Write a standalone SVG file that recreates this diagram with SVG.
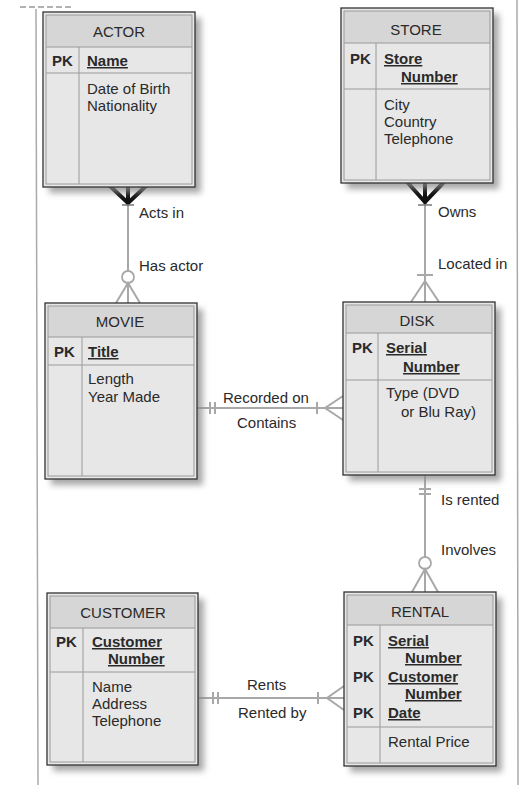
<svg xmlns="http://www.w3.org/2000/svg" width="530" height="785" viewBox="0 0 530 785">
<defs>
<filter id="sh" x="-10%" y="-10%" width="130%" height="130%"><feGaussianBlur stdDeviation="3"/></filter>
<style>
text{font-family:"Liberation Sans",Arial,sans-serif;font-size:15px;fill:#2a2a2a}
.t{text-anchor:middle}
.pk{font-weight:bold}
.k{font-weight:bold;text-decoration:underline}
.shadow{fill:#8a8a8a;opacity:0.75;filter:url(#sh)}
.body{fill:#e7e7e7;stroke:#333;stroke-width:1.3}
.in{fill:none;stroke:#9a9a9a;stroke-width:1}
.hdr{fill:#d6d6d6}
.sep{stroke:#9a9a9a;stroke-width:1}
.cn{stroke:#a8a8a8;stroke-width:2;fill:none}
.bk{stroke:#111;stroke-width:4;fill:none;stroke-linecap:round}
.tk{stroke:#777;stroke-width:1.5}
.ci{fill:#fff;stroke:#a8a8a8;stroke-width:1.8}
.fr{stroke:#aaa;stroke-width:1.5;fill:none}
</style>
</defs>
<rect width="530" height="785" fill="#fff"/>
<g id="frame">
<line class="fr" x1="36" y1="9" x2="38" y2="785"/>
<line class="fr" x1="517" y1="0" x2="518" y2="785"/>
<line x1="20" y1="7" x2="72" y2="7" stroke="#666" stroke-width="1" stroke-dasharray="6,3"/>
</g>
<g id="connectors">
<!-- ACTOR - MOVIE -->
<line class="cn" x1="128" y1="205" x2="128" y2="271"/>
<polyline class="bk" points="110,186 128,203 146,186"/>
<line class="bk" x1="128" y1="186" x2="128" y2="203"/>
<line class="tk" x1="122" y1="205" x2="134" y2="205"/>
<circle class="ci" cx="128" cy="277" r="6"/>
<polyline class="cn" points="116,303 128,283 140,303"/>
<line class="cn" x1="128" y1="283" x2="128" y2="303"/>
<!-- STORE - DISK -->
<line class="cn" x1="425" y1="205" x2="425" y2="302"/>
<polyline class="bk" points="408,183 425,202 443,183"/>
<line class="bk" x1="425" y1="183" x2="425" y2="202"/>
<line class="tk" x1="418" y1="205" x2="432" y2="205"/>
<line class="cn" x1="417" y1="275" x2="433" y2="275"/>
<polyline class="cn" points="411,302 425,281 439,302"/>
<!-- MOVIE - DISK -->
<line class="cn" x1="197" y1="408" x2="343" y2="408"/>
<line class="cn" x1="210" y1="402" x2="210" y2="414"/>
<line class="cn" x1="215" y1="402" x2="215" y2="414"/>
<line class="cn" x1="317" y1="402" x2="317" y2="414"/>
<polyline class="cn" points="343,396 325,408 343,420"/>
<!-- DISK - RENTAL -->
<line class="cn" x1="425" y1="475" x2="425" y2="557"/>
<line class="cn" x1="419" y1="489" x2="431" y2="489"/>
<line class="cn" x1="419" y1="494" x2="431" y2="494"/>
<circle class="ci" cx="425" cy="563" r="6"/>
<polyline class="cn" points="412,592 425,569 438,592"/>
<line class="cn" x1="425" y1="569" x2="425" y2="592"/>
<!-- CUSTOMER - RENTAL -->
<line class="cn" x1="198" y1="698" x2="344" y2="698"/>
<line class="cn" x1="213" y1="692" x2="213" y2="704"/>
<line class="cn" x1="218" y1="692" x2="218" y2="704"/>
<line class="cn" x1="318" y1="692" x2="318" y2="704"/>
<polyline class="cn" points="344,686 327,698 344,710"/>
</g>
<g id="labels">
<text x="139" y="218">Acts in</text>
<text x="139" y="271">Has actor</text>
<text x="438" y="217">Owns</text>
<text x="438" y="269">Located in</text>
<text x="223" y="403">Recorded on</text>
<text x="237" y="428">Contains</text>
<text x="441" y="505">Is rented</text>
<text x="441" y="555">Involves</text>
<text x="247" y="690">Rents</text>
<text x="238" y="718">Rented by</text>
</g>
<g id="actor">
<rect class="shadow" x="49" y="18" width="152" height="175"/>
<rect class="body" x="43" y="12" width="152" height="175"/>
<rect class="hdr" x="46" y="15" width="146" height="32"/>
<rect class="in" x="46" y="15" width="146" height="169"/>
<line class="sep" x1="46" y1="47" x2="192" y2="47"/>
<line class="sep" x1="46" y1="73" x2="192" y2="73"/>
<line class="sep" x1="79" y1="47" x2="79" y2="184"/>
<text class="t" x="119" y="37">ACTOR</text>
<text class="pk" x="52" y="66">PK</text>
<text class="k" x="87" y="66">Name</text>
<text x="87" y="94">Date of Birth</text>
<text x="87" y="111">Nationality</text>
</g>
<g id="store">
<rect class="shadow" x="347" y="14" width="152" height="175"/>
<rect class="body" x="341" y="8" width="152" height="175"/>
<rect class="hdr" x="344" y="11" width="146" height="32"/>
<rect class="in" x="344" y="11" width="146" height="169"/>
<line class="sep" x1="344" y1="43" x2="490" y2="43"/>
<line class="sep" x1="344" y1="89" x2="490" y2="89"/>
<line class="sep" x1="376" y1="43" x2="376" y2="180"/>
<text class="t" x="416" y="35">STORE</text>
<text class="pk" x="350" y="64">PK</text>
<text class="k" x="384" y="64">Store</text>
<text class="k" x="401" y="82">Number</text>
<text x="384" y="110">City</text>
<text x="384" y="127">Country</text>
<text x="384" y="144">Telephone</text>
</g>
<g id="movie">
<rect class="shadow" x="51" y="309" width="152" height="176"/>
<rect class="body" x="45" y="303" width="152" height="176"/>
<rect class="hdr" x="48" y="306" width="146" height="31"/>
<rect class="in" x="48" y="306" width="146" height="170"/>
<line class="sep" x1="48" y1="337" x2="194" y2="337"/>
<line class="sep" x1="48" y1="365" x2="194" y2="365"/>
<line class="sep" x1="82" y1="337" x2="82" y2="476"/>
<text class="t" x="120" y="327">MOVIE</text>
<text class="pk" x="54" y="357">PK</text>
<text class="k" x="88" y="357">Title</text>
<text x="88" y="384">Length</text>
<text x="88" y="402">Year Made</text>
</g>
<g id="disk">
<rect class="shadow" x="349" y="308" width="152" height="173"/>
<rect class="body" x="343" y="302" width="152" height="173"/>
<rect class="hdr" x="346" y="305" width="146" height="28"/>
<rect class="in" x="346" y="305" width="146" height="167"/>
<line class="sep" x1="346" y1="333" x2="492" y2="333"/>
<line class="sep" x1="346" y1="380" x2="492" y2="380"/>
<line class="sep" x1="378" y1="333" x2="378" y2="472"/>
<text class="t" x="417" y="326">DISK</text>
<text class="pk" x="352" y="353">PK</text>
<text class="k" x="386" y="353">Serial</text>
<text class="k" x="403" y="372">Number</text>
<text x="386" y="398">Type (DVD</text>
<text x="401" y="417">or Blu Ray)</text>
</g>
<g id="customer">
<rect class="shadow" x="53" y="599" width="151" height="172"/>
<rect class="body" x="47" y="593" width="151" height="172"/>
<rect class="hdr" x="50" y="596" width="145" height="32"/>
<rect class="in" x="50" y="596" width="145" height="166"/>
<line class="sep" x1="50" y1="628" x2="195" y2="628"/>
<line class="sep" x1="50" y1="672" x2="195" y2="672"/>
<line class="sep" x1="83" y1="628" x2="83" y2="762"/>
<text class="t" x="123" y="618">CUSTOMER</text>
<text class="pk" x="56" y="647">PK</text>
<text class="k" x="92" y="647">Customer</text>
<text class="k" x="108" y="664">Number</text>
<text x="92" y="692">Name</text>
<text x="92" y="709">Address</text>
<text x="92" y="726">Telephone</text>
</g>
<g id="rental">
<rect class="shadow" x="350" y="598" width="152" height="174"/>
<rect class="body" x="344" y="592" width="152" height="174"/>
<rect class="hdr" x="347" y="595" width="146" height="30"/>
<rect class="in" x="347" y="595" width="146" height="168"/>
<line class="sep" x1="347" y1="625" x2="493" y2="625"/>
<line class="sep" x1="347" y1="727" x2="493" y2="727"/>
<line class="sep" x1="380" y1="625" x2="380" y2="763"/>
<text class="t" x="420" y="617">RENTAL</text>
<text class="pk" x="353" y="646">PK</text>
<text class="k" x="388" y="646">Serial</text>
<text class="k" x="405" y="663">Number</text>
<text class="pk" x="353" y="682">PK</text>
<text class="k" x="388" y="682">Customer</text>
<text class="k" x="405" y="699">Number</text>
<text class="pk" x="353" y="718">PK</text>
<text class="k" x="388" y="718">Date</text>
<text x="388" y="747">Rental Price</text>
</g>
</svg>
